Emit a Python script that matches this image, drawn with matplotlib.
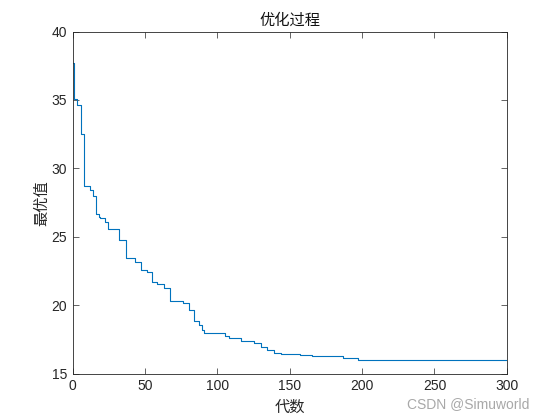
import matplotlib
matplotlib.use('Agg')
import matplotlib.pyplot as plt

plt.rcParams['font.family'] = ['Liberation Sans', 'Noto Sans CJK SC', 'DejaVu Sans']

# generation where the best value changes, and the new best value
gens = [0, 1, 3, 6, 8, 12, 14, 16, 18, 19, 22, 24, 32, 37, 43, 47, 51, 55, 58, 63,
        67, 76, 80, 84, 87, 89, 91, 105, 108, 116, 125, 130, 134, 139, 144, 157,
        165, 187, 197, 300]
best = [37.7, 35.1, 34.6, 32.5, 28.7, 28.45, 27.96, 26.7, 26.45, 26.35, 26.1, 25.6,
        24.8, 23.46, 23.2, 22.6, 22.45, 21.7, 21.55, 21.26, 20.33, 20.16, 19.68,
        18.87, 18.58, 18.2, 18.0, 17.78, 17.65, 17.41, 17.22, 16.95, 16.72, 16.51,
        16.44, 16.38, 16.32, 16.17, 16.0, 16.0]

xticks = [0, 50, 100, 150, 200, 250, 300]
yticks = [15, 20, 25, 30, 35, 40]

axc = '#262626'
fig = plt.figure(figsize=(5.6, 4.2), dpi=100)
ax = fig.add_axes([0.13, 0.11, 0.775, 0.815])
ax.plot(gens, best, drawstyle='steps-post', color='#0072BD', lw=0.8)

ax.set_xlim(0, 300)
ax.set_ylim(15, 40)
ax.set_xticks(xticks)
ax.set_yticks(yticks)
ax.tick_params(direction='in', length=4, width=0.5, top=True, right=True,
               labelsize=10, colors=axc, pad=4)
for s in ax.spines.values():
    s.set_color(axc)
    s.set_linewidth(0.6)

cjk = ['Noto Sans CJK SC', 'DejaVu Sans']
ax.set_title('优化过程', family=cjk, fontsize=11, color='#111111', pad=5)
ax.set_xlabel('代数', family=cjk, fontsize=11, color=axc, labelpad=4)
ax.set_ylabel('最优值', family=cjk, fontsize=11, color=axc, labelpad=1)

fig.text(0.945, 0.022, 'CSDN @Simuworld', ha='right', va='bottom',
         fontsize=10, color='#a8a8a8')

fig.savefig('out.png', dpi=100)
